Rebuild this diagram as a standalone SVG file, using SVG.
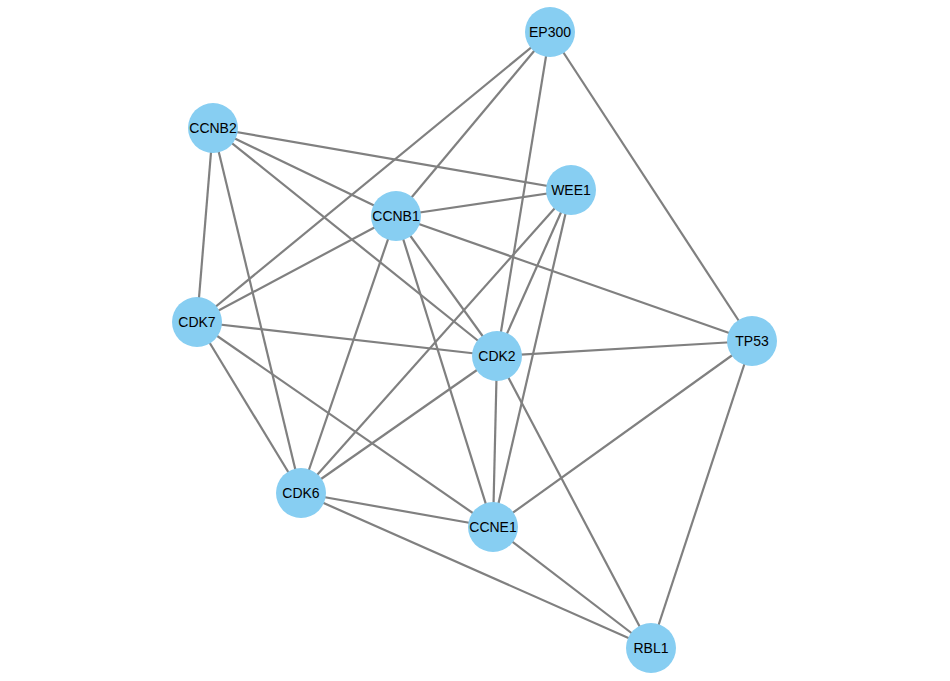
<svg xmlns="http://www.w3.org/2000/svg" width="950" height="681" viewBox="0 0 950 681">
<style>
.e{stroke:#808080;stroke-width:2.2;fill:none}
.n circle{fill:#87CEF2}
.n text{font-family:"Liberation Sans",Arial,sans-serif;font-size:14px;fill:#000;text-anchor:middle;dominant-baseline:central}
</style>
<rect width="950" height="681" fill="#fff"/>
<g id="edges" class="e">
<line x1="550" y1="32" x2="396" y2="216"/>
<line x1="550" y1="32" x2="197" y2="322"/>
<line x1="550" y1="32" x2="497" y2="356"/>
<line x1="550" y1="32" x2="752" y2="341"/>
<line x1="213" y1="128" x2="571" y2="190"/>
<line x1="213" y1="128" x2="396" y2="216"/>
<line x1="213" y1="128" x2="497" y2="356"/>
<line x1="213" y1="128" x2="197" y2="322"/>
<line x1="213" y1="128" x2="301" y2="493"/>
<line x1="571" y1="190" x2="396" y2="216"/>
<line x1="571" y1="190" x2="497" y2="356"/>
<line x1="571" y1="190" x2="301" y2="493"/>
<line x1="571" y1="190" x2="493" y2="527"/>
<line x1="396" y1="216" x2="197" y2="322"/>
<line x1="396" y1="216" x2="752" y2="341"/>
<line x1="396" y1="216" x2="497" y2="356"/>
<line x1="396" y1="216" x2="301" y2="493"/>
<line x1="396" y1="216" x2="493" y2="527"/>
<line x1="197" y1="322" x2="497" y2="356"/>
<line x1="197" y1="322" x2="301" y2="493"/>
<line x1="197" y1="322" x2="493" y2="527"/>
<line x1="497" y1="356" x2="752" y2="341"/>
<line x1="497" y1="356" x2="301" y2="493"/>
<line x1="497" y1="356" x2="493" y2="527"/>
<line x1="497" y1="356" x2="651" y2="648"/>
<line x1="752" y1="341" x2="493" y2="527"/>
<line x1="752" y1="341" x2="651" y2="648"/>
<line x1="301" y1="493" x2="493" y2="527"/>
<line x1="301" y1="493" x2="651" y2="648"/>
<line x1="493" y1="527" x2="651" y2="648"/>
</g>
<g id="EP300" class="n"><circle cx="550" cy="32" r="25"/><text x="550" y="32">EP300</text></g>
<g id="CCNB2" class="n"><circle cx="213" cy="128" r="25"/><text x="213" y="128">CCNB2</text></g>
<g id="WEE1" class="n"><circle cx="571" cy="190" r="25"/><text x="571" y="190">WEE1</text></g>
<g id="CCNB1" class="n"><circle cx="396" cy="216" r="25"/><text x="396" y="216">CCNB1</text></g>
<g id="CDK7" class="n"><circle cx="197" cy="322" r="25"/><text x="197" y="322">CDK7</text></g>
<g id="TP53" class="n"><circle cx="752" cy="341" r="25"/><text x="752" y="341">TP53</text></g>
<g id="CDK2" class="n"><circle cx="497" cy="356" r="25"/><text x="497" y="356">CDK2</text></g>
<g id="CDK6" class="n"><circle cx="301" cy="493" r="25"/><text x="301" y="493">CDK6</text></g>
<g id="CCNE1" class="n"><circle cx="493" cy="527" r="25"/><text x="493" y="527">CCNE1</text></g>
<g id="RBL1" class="n"><circle cx="651" cy="648" r="25"/><text x="651" y="648">RBL1</text></g>
</svg>
